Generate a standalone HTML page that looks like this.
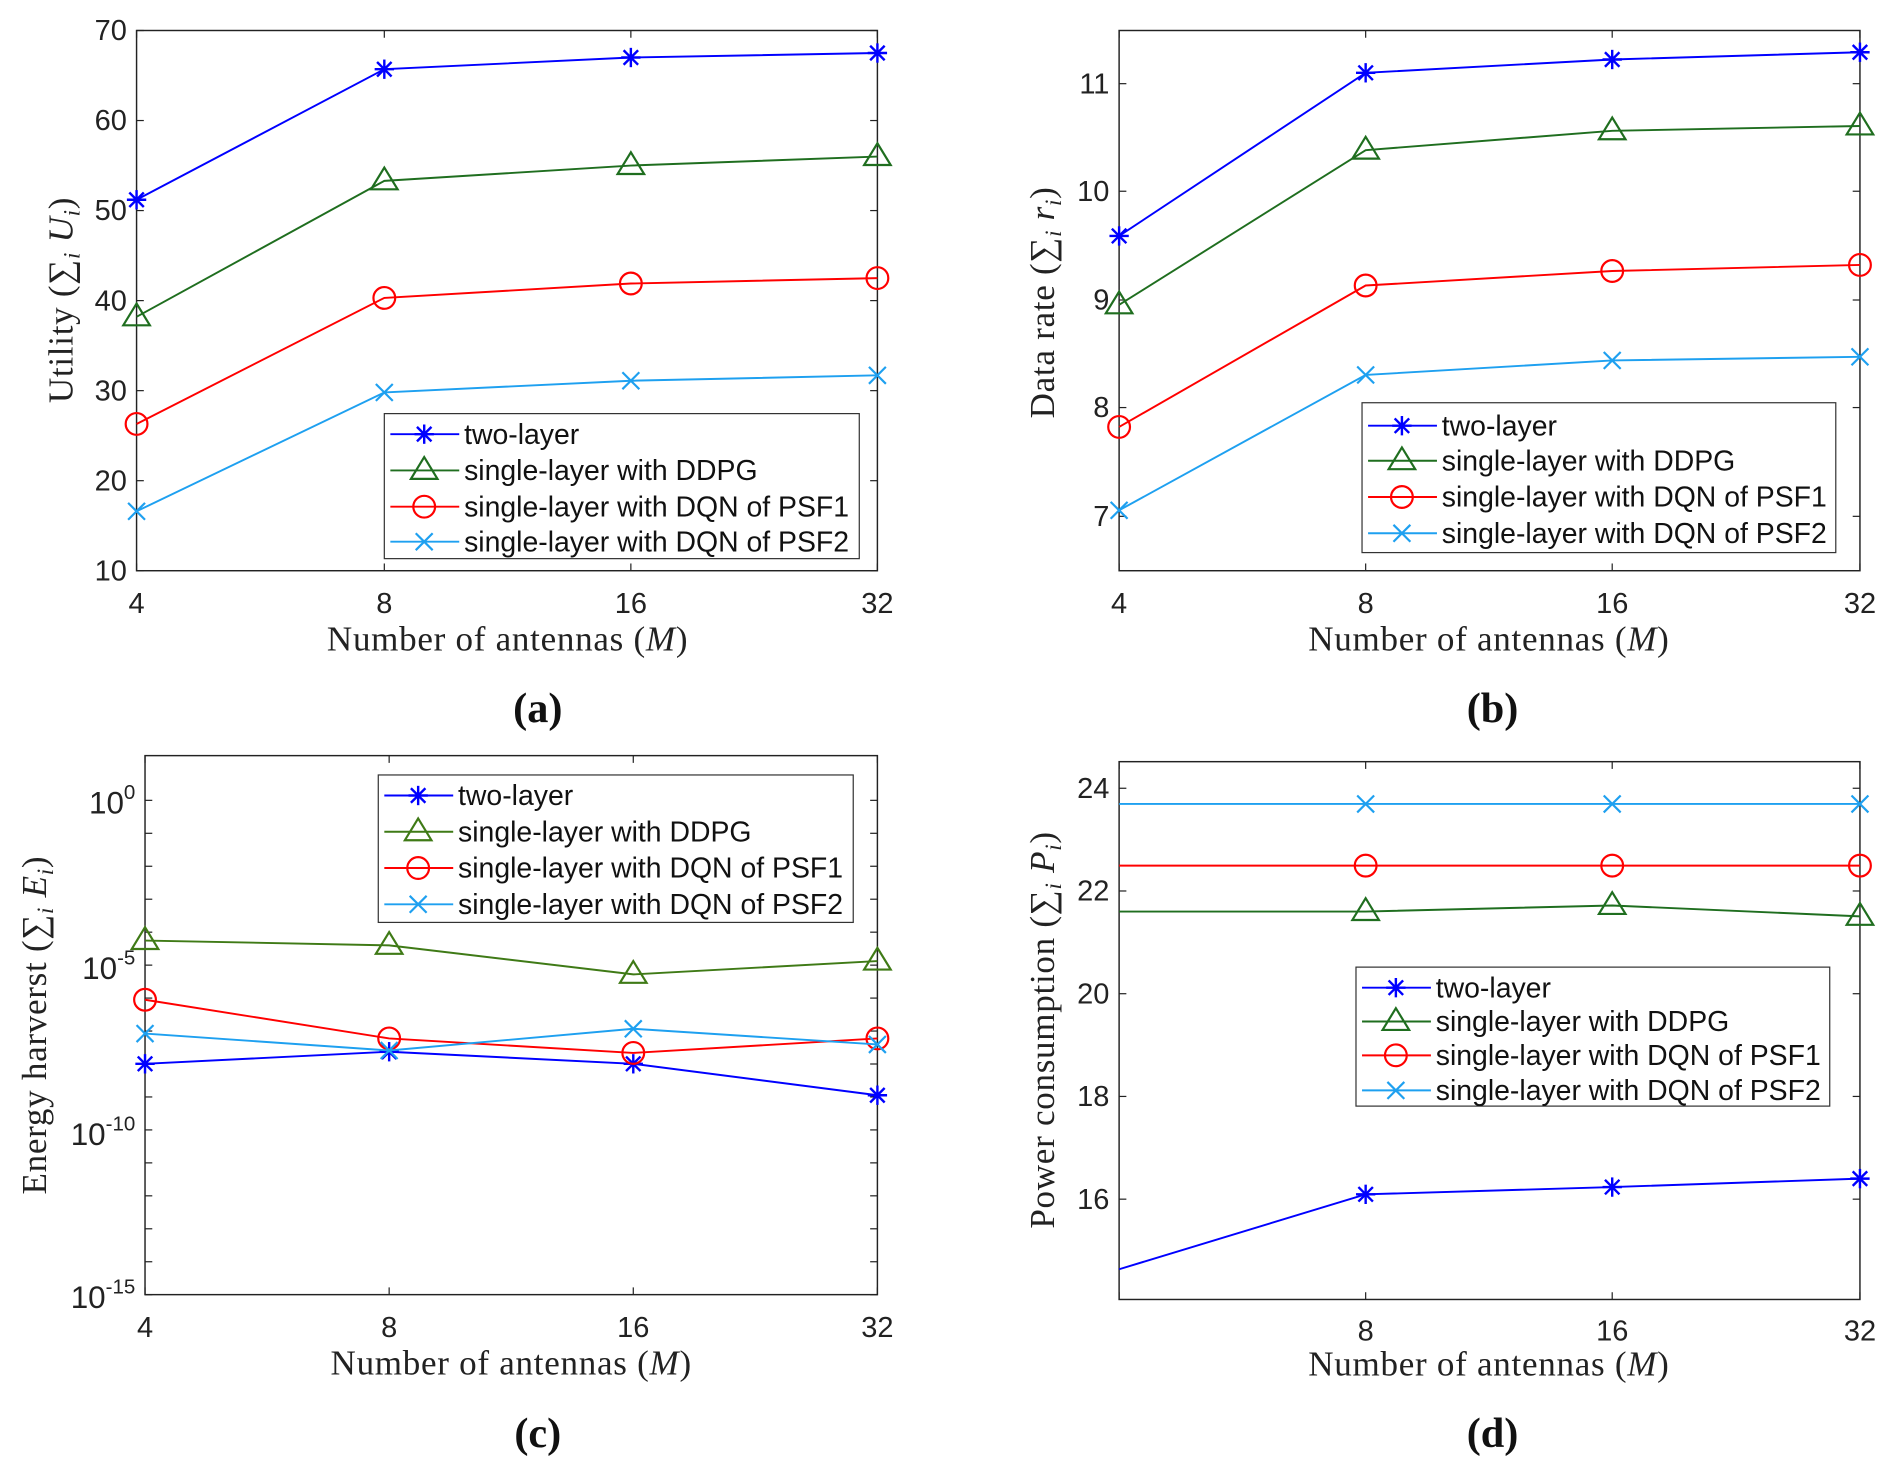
<!DOCTYPE html>
<html><head><meta charset="utf-8"><style>
html,body{margin:0;padding:0;background:#fff;width:1895px;height:1475px;overflow:hidden}
svg{display:block}
.t{font-family:"Liberation Sans",sans-serif;font-size:24px;fill:#222}
.s{font-family:"Liberation Serif",serif;font-size:29px;fill:#222;letter-spacing:0.6px}
.p{font-family:"Liberation Serif",serif;font-size:35px;font-weight:bold;fill:#111}
.l{font-family:"Liberation Sans",sans-serif;font-size:23.5px;fill:#111}
</style></head><body>
<svg id="c" width="1895" height="1475" viewBox="0 0 1568 1220" xmlns="http://www.w3.org/2000/svg"></svg>
<script>
const C={b:'#0000ff',g:'#1f6e1f',r:'#ff0000',c:'#1ea0f0'};
let h='';
function mk(t,x,y,col){
 if(t==='b'){let s=8;h+=`<g stroke="${col}" stroke-width="2"><line x1="${x-s}" y1="${y}" x2="${x+s}" y2="${y}"/><line x1="${x}" y1="${y-s}" x2="${x}" y2="${y+s}"/><line x1="${x-6}" y1="${y-6}" x2="${x+6}" y2="${y+6}"/><line x1="${x-6}" y1="${y+6}" x2="${x+6}" y2="${y-6}"/></g>`;}
 else if(t==='g'){h+=`<polygon points="${x},${y-11} ${x-11},${y+7} ${x+11},${y+7}" fill="none" stroke="${col}" stroke-width="1.8"/>`;}
 else if(t==='r'){h+=`<circle cx="${x}" cy="${y}" r="9" fill="none" stroke="${col}" stroke-width="1.8"/>`;}
 else {h+=`<g stroke="${col}" stroke-width="1.8"><line x1="${x-7}" y1="${y-7}" x2="${x+7}" y2="${y+7}"/><line x1="${x-7}" y1="${y+7}" x2="${x+7}" y2="${y-7}"/></g>`;}
}
function series(xs,ys,t,col){
 let pts=[];ys.forEach((y,i)=>{if(y!=null)pts.push(xs[i]+','+y)});
 h+=`<polyline points="${pts.join(' ')}" fill="none" stroke="${col}" stroke-width="1.6"/>`;
 ys.forEach((y,i)=>{if(y!=null&&!(t.skip&&i===0))mk(t.k,xs[i],y,col)});
}
function legend(x1,y1,x2,y2,rows,green){
 h+=`<rect x="${x1}" y="${y1}" width="${x2-x1}" height="${y2-y1}" fill="#fff" stroke="#333" stroke-width="1"/>`;
 const names=['two-layer','single-layer with DDPG','single-layer with DQN of PSF1','single-layer with DQN of PSF2'];
 ['b','g','r','c'].forEach((k,i)=>{let col=k==='g'?green:C[k];let y=rows[i];
 h+=`<line x1="${x1+5}" y1="${y}" x2="${x1+62}" y2="${y}" stroke="${col}" stroke-width="1.6"/>`;mk(k,x1+33,y,col);
 h+=`<text class="l" x="${x1+66}" y="${y+8}">${names[i]}</text>`;});
}
function box(x1,y1,x2,y2){h+=`<rect x="${x1}" y="${y1}" width="${x2-x1}" height="${y2-y1}" fill="none" stroke="#222" stroke-width="1.2"/>`;}
function yt(x1,x2,y,lab){h+=`<line x1="${x1}" y1="${y}" x2="${x1+6}" y2="${y}" stroke="#222"/><line x1="${x2-6}" y1="${y}" x2="${x2}" y2="${y}" stroke="#222"/>`;if(lab!=null)h+=`<text class="t" x="${x1-8}" y="${y+8}" text-anchor="end">${lab}</text>`;}
function xt(x,y1,y2,lab,ly){h+=`<line x1="${x}" y1="${y2}" x2="${x}" y2="${y2-6}" stroke="#222"/><line x1="${x}" y1="${y1}" x2="${x}" y2="${y1+6}" stroke="#222"/>`;if(lab!=null)h+=`<text class="t" x="${x}" y="${ly}" text-anchor="middle">${lab}</text>`;}
function xlabel(cx,y){h+=`<text class="s" x="${cx}" y="${y}" text-anchor="middle">Number of antennas (<tspan font-style="italic">M</tspan>)</text>`;}
function ylabel(x,cy,txt){h+=`<text class="s" transform="translate(${x},${cy}) rotate(-90)" text-anchor="middle">${txt}</text>`;}
// (a)
let xa=[113,318,522,726];
box(113,25,726,472);
[10,20,30,40,50,60,70].forEach(v=>yt(113,726,472-(v-10)*7.45,v));
[4,8,16,32].forEach((v,i)=>xt(xa[i],25,472,v,507));
const ya=v=>472-(v-10)*7.45;
series(xa,[51.2,65.7,67,67.5].map(ya),{k:'b'},C.b);
series(xa,[38.2,53.3,55,56].map(ya),{k:'g'},C.g);
series(xa,[26.3,40.3,41.9,42.5].map(ya),{k:'r'},C.r);
series(xa,[16.6,29.8,31.1,31.7].map(ya),{k:'c'},C.c);
legend(318,342,711,462,[359,389,419,448],C.g);
xlabel(420,538);ylabel(60,248,'Utility (∑<tspan font-size="19" baseline-shift="-6" font-style="italic">i</tspan> <tspan font-style="italic">U</tspan><tspan font-size="19" baseline-shift="-6" font-style="italic">i</tspan>)');
h+=`<text class="p" x="445" y="597" text-anchor="middle">(a)</text>`;
// (b)
let xb=[926,1130,1334,1539];
box(926,25,1539,472);
[[7,427],[8,337],[9,248],[10,158],[11,69]].forEach(a=>yt(926,1539,a[1],a[0]));
[4,8,16,32].forEach((v,i)=>xt(xb[i],25,472,v,507));
series(xb,[195,60,49,43],{k:'b'},C.b);
series(xb,[252,124,108,104],{k:'g'},C.g);
series(xb,[353,236,224,219],{k:'r'},C.r);
series(xb,[422,310,298,295],{k:'c'},C.c);
legend(1127,333,1519,457,[352,381,411,441],C.g);
xlabel(1232,538);ylabel(872,250,'Data rate (∑<tspan font-size="19" baseline-shift="-6" font-style="italic">i</tspan> <tspan font-style="italic">r</tspan><tspan font-size="19" baseline-shift="-6" font-style="italic">i</tspan>)');
h+=`<text class="p" x="1235" y="597" text-anchor="middle">(b)</text>`;
// (c)
let xc=[120,322,524,726];
box(120,625,726,1071);
for(let i=0;i<=15;i++){let y=662+i*27.27;yt(120,726,y,null);}
[[0,662],[-5,799],[-10,936],[-15,1071]].forEach(a=>{h+=`<text class="t" style="font-size:26px" x="112" y="${a[1]+11}" text-anchor="end">10<tspan font-size="17" dy="-12">${a[0]}</tspan></text>`;});
[4,8,16,32].forEach((v,i)=>xt(xc[i],625,1071,v,1106));
const G2='#3f7a16';
series(xc,[880,870,880,906],{k:'b'},C.b);
series(xc,[778,782,806,795],{k:'g'},G2);
series(xc,[827,859,871,859],{k:'r'},C.r);
series(xc,[855,869,851,864],{k:'c'},C.c);
legend(313,641,706,763,[658,688,718,748],G2);
xlabel(423,1137);ylabel(38,848,'Energy harverst (∑<tspan font-size="19" baseline-shift="-6" font-style="italic">i</tspan> <tspan font-style="italic">E</tspan><tspan font-size="19" baseline-shift="-6" font-style="italic">i</tspan>)');
h+=`<text class="p" x="445" y="1197" text-anchor="middle">(c)</text>`;
// (d)
let xd=[926,1130,1334,1539];
box(926,630,1539,1075);
[[16,992],[18,907],[20,822],[22,737],[24,652]].forEach(a=>yt(926,1539,a[1],a[0]));
[null,8,16,32].forEach((v,i)=>xt(xd[i],630,1075,v,1109));
series(xd,[1050,988,982,975],{k:'b',skip:1},C.b);
series(xd,[754,754,749,758],{k:'g',skip:1},C.g);
series(xd,[716,716,716,716],{k:'r',skip:1},C.r);
series(xd,[665,665,665,665],{k:'c',skip:1},C.c);
legend(1122,800,1514,915,[817,845,873,902],C.g);
xlabel(1232,1138);ylabel(872,852,'Power consumption (∑<tspan font-size="19" baseline-shift="-6" font-style="italic">i</tspan> <tspan font-style="italic">P</tspan><tspan font-size="19" baseline-shift="-6" font-style="italic">i</tspan>)');
h+=`<text class="p" x="1235" y="1197" text-anchor="middle">(d)</text>`;
document.getElementById('c').innerHTML=h;
</script>
</body></html>
